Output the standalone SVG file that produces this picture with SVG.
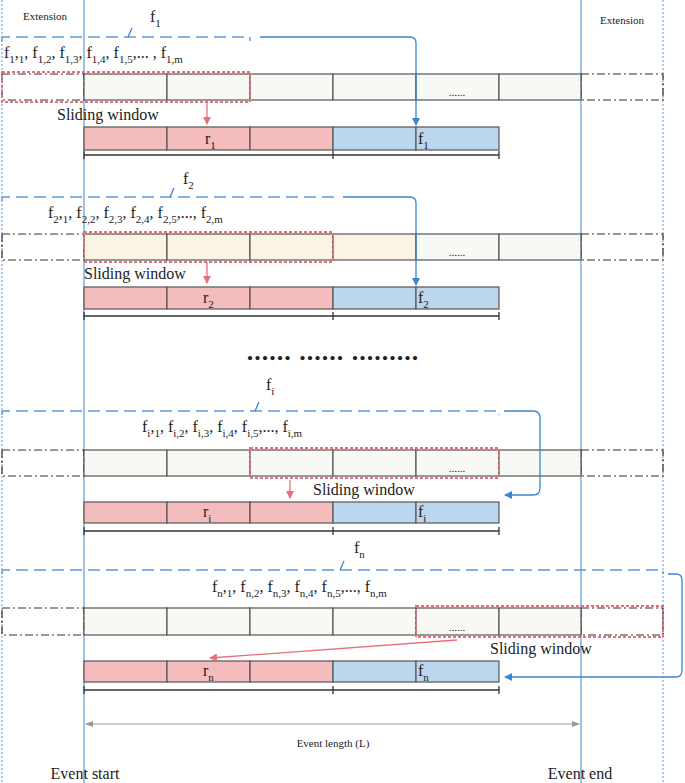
<svg xmlns="http://www.w3.org/2000/svg" width="685" height="783" viewBox="0 0 685 783">
<style>
text{font-family:"Liberation Serif",serif;fill:#222}
.t{font-size:16px}.s{font-size:11px}
.cell{fill:#f8f8f4;stroke:#555;stroke-width:1.2}
.beige{fill:#fbf3e4;stroke:#555;stroke-width:1.2}
.red{fill:#f4bcbc;stroke:#555;stroke-width:1.2}
.blue{fill:#bcd6ee;stroke:#555;stroke-width:1.2}
.ext{fill:none;stroke:#333;stroke-dasharray:8 3 2 3;stroke-width:1.2}
.win{fill:none;stroke:#e8707a;stroke-dasharray:3 2;stroke-width:2}
.bd{fill:none;stroke:#5b9bd5;stroke-dasharray:12 6;stroke-width:1.4}
.bl{fill:none;stroke:#3a86cf;stroke-width:1.3}
.rl{fill:none;stroke:#e8707a;stroke-width:1.3}
.br{fill:none;stroke:#333;stroke-width:1.3}
.v{stroke:#5b9bd5;stroke-width:1.2}
.vd{stroke:#5b9bd5;stroke-width:1;stroke-dasharray:2 2}
</style>
<defs>
<marker id="ab" markerWidth="8" markerHeight="8" refX="7" refY="4" orient="auto" markerUnits="userSpaceOnUse"><path d="M0,0L8,4L0,8z" fill="#3a86cf"/></marker>
<marker id="ar" markerWidth="8" markerHeight="8" refX="7" refY="4" orient="auto" markerUnits="userSpaceOnUse"><path d="M0,0L8,4L0,8z" fill="#e8707a"/></marker>
<marker id="ag" markerWidth="8" markerHeight="8" refX="7" refY="4" orient="auto" markerUnits="userSpaceOnUse"><path d="M0,1L8,4L0,7z" fill="#999"/></marker>
<marker id="ag0" markerWidth="8" markerHeight="8" refX="1" refY="4" orient="auto" markerUnits="userSpaceOnUse"><path d="M8,1L0,4L8,7z" fill="#999"/></marker>
</defs>
<g id="guides">
<line class="vd" x1="2" y1="0" x2="2" y2="783"/>
<line class="vd" x1="663" y1="0" x2="663" y2="783"/>
<line class="v" x1="84" y1="0" x2="84" y2="783"/>
<line class="v" x1="581" y1="0" x2="581" y2="783"/>
<text class="s" x="45" y="20" text-anchor="middle">Extension</text>
<text class="s" x="622" y="24" text-anchor="middle">Extension</text>
</g>
<g id="row1">
<rect class="ext" x="2" y="74" width="82" height="26"/><rect class="ext" x="581" y="74" width="82" height="26"/>
<rect class="cell" x="84" y="74" width="83" height="26"/><rect class="cell" x="167" y="74" width="83" height="26"/><rect class="cell" x="250" y="74" width="83" height="26"/><rect class="cell" x="333" y="74" width="83" height="26"/><rect class="cell" x="416" y="74" width="83" height="26"/><rect class="cell" x="499" y="74" width="82" height="26"/>
<text class="s" x="457" y="96" text-anchor="middle">......</text>
<rect class="win" x="2" y="72" width="248" height="30"/>
<text class="t" x="150" y="22">f<tspan font-size="11" dy="5">1</tspan></text>
<text class="t" x="4" y="58">f<tspan font-size="11" dy="5">1</tspan><tspan dy="-5">,</tspan><tspan font-size="11" dy="5">1</tspan><tspan dy="-5">, f</tspan><tspan font-size="11" dy="5">1,2</tspan><tspan dy="-5">, f</tspan><tspan font-size="11" dy="5">1,3</tspan><tspan dy="-5">, f</tspan><tspan font-size="11" dy="5">1,4</tspan><tspan dy="-5">, f</tspan><tspan font-size="11" dy="5">1,5</tspan><tspan dy="-5">,... , f</tspan><tspan font-size="11" dy="5">1,m</tspan></text>
<text class="t" x="57" y="120">Sliding window</text>
<rect class="red" x="84" y="127" width="83" height="23"/><rect class="red" x="167" y="127" width="83" height="23"/><rect class="red" x="250" y="127" width="83" height="23"/>
<rect class="blue" x="333" y="127" width="83" height="23"/><rect class="blue" x="416" y="127" width="83" height="23"/>
<text class="t" x="205" y="144">r<tspan font-size="11" dy="5">1</tspan></text>
<text class="t" x="418" y="144">f<tspan font-size="11" dy="5">1</tspan></text>
<path class="br" d="M84,155H499M84,151V159M333,151V159M499,151V159"/>
</g>
<g id="row2">
<rect class="ext" x="2" y="234" width="82" height="26"/><rect class="ext" x="581" y="234" width="82" height="26"/>
<rect class="beige" x="84" y="234" width="83" height="26"/><rect class="beige" x="167" y="234" width="83" height="26"/><rect class="beige" x="250" y="234" width="83" height="26"/><rect class="beige" x="333" y="234" width="83" height="26"/><rect class="cell" x="416" y="234" width="83" height="26"/><rect class="cell" x="499" y="234" width="82" height="26"/>
<text class="s" x="457" y="256" text-anchor="middle">......</text>
<rect class="win" x="84" y="232" width="249" height="30"/>
<text class="t" x="183" y="184">f<tspan font-size="11" dy="5">2</tspan></text>
<text class="t" x="48" y="218">f<tspan font-size="11" dy="5">2</tspan><tspan dy="-5">,</tspan><tspan font-size="11" dy="5">1</tspan><tspan dy="-5">, f</tspan><tspan font-size="11" dy="5">2,2</tspan><tspan dy="-5">, f</tspan><tspan font-size="11" dy="5">2,3</tspan><tspan dy="-5">, f</tspan><tspan font-size="11" dy="5">2,4</tspan><tspan dy="-5">, f</tspan><tspan font-size="11" dy="5">2,5</tspan><tspan dy="-5">,..., f</tspan><tspan font-size="11" dy="5">2,m</tspan></text>
<text class="t" x="84" y="279">Sliding window</text>
<rect class="red" x="84" y="287" width="83" height="22"/><rect class="red" x="167" y="287" width="83" height="22"/><rect class="red" x="250" y="287" width="83" height="22"/>
<rect class="blue" x="333" y="287" width="83" height="22"/><rect class="blue" x="416" y="287" width="83" height="22"/>
<text class="t" x="203" y="303">r<tspan font-size="11" dy="5">2</tspan></text>
<text class="t" x="418" y="303">f<tspan font-size="11" dy="5">2</tspan></text>
<path class="br" d="M84,316H499M84,312V320M333,312V320M499,312V320"/>
</g>
<text id="dots" x="333" y="360" text-anchor="middle" style="font-size:26px;font-weight:bold;letter-spacing:1px">...... ...... .........</text>
<g id="rowi">
<rect class="ext" x="2" y="450" width="82" height="26"/><rect class="ext" x="581" y="450" width="82" height="26"/>
<rect class="cell" x="84" y="450" width="83" height="26"/><rect class="cell" x="167" y="450" width="83" height="26"/><rect class="cell" x="250" y="450" width="83" height="26"/><rect class="cell" x="333" y="450" width="83" height="26"/><rect class="cell" x="416" y="450" width="83" height="26"/><rect class="cell" x="499" y="450" width="82" height="26"/>
<text class="s" x="457" y="472" text-anchor="middle">......</text>
<rect class="win" x="250" y="448" width="249" height="30"/>
<text class="t" x="266" y="390">f<tspan font-size="11" dy="5">i</tspan></text>
<text class="t" x="142" y="432">f<tspan font-size="11" dy="5">i</tspan><tspan dy="-5">,</tspan><tspan font-size="11" dy="5">1</tspan><tspan dy="-5">, f</tspan><tspan font-size="11" dy="5">i,2</tspan><tspan dy="-5">, f</tspan><tspan font-size="11" dy="5">i,3</tspan><tspan dy="-5">, f</tspan><tspan font-size="11" dy="5">i,4</tspan><tspan dy="-5">, f</tspan><tspan font-size="11" dy="5">i,5</tspan><tspan dy="-5">,..., f</tspan><tspan font-size="11" dy="5">i,m</tspan></text>
<text class="t" x="313" y="495">Sliding window</text>
<rect class="red" x="84" y="502" width="83" height="21"/><rect class="red" x="167" y="502" width="83" height="21"/><rect class="red" x="250" y="502" width="83" height="21"/>
<rect class="blue" x="333" y="502" width="83" height="21"/><rect class="blue" x="416" y="502" width="83" height="21"/>
<text class="t" x="203" y="517">r<tspan font-size="11" dy="5">i</tspan></text>
<text class="t" x="418" y="517">f<tspan font-size="11" dy="5">i</tspan></text>
<path class="br" d="M84,531H499M84,527V535M333,527V535M499,527V535"/>
</g>
<g id="rown">
<rect class="ext" x="2" y="608" width="82" height="27"/><rect class="ext" x="581" y="608" width="82" height="27"/>
<rect class="cell" x="84" y="608" width="83" height="27"/><rect class="cell" x="167" y="608" width="83" height="27"/><rect class="cell" x="250" y="608" width="83" height="27"/><rect class="cell" x="333" y="608" width="83" height="27"/><rect class="cell" x="416" y="608" width="83" height="27"/><rect class="cell" x="499" y="608" width="82" height="27"/>
<text class="s" x="457" y="631" text-anchor="middle">......</text>
<rect class="win" x="416" y="606" width="247" height="31"/>
<text class="t" x="354" y="553">f<tspan font-size="11" dy="5">n</tspan></text>
<text class="t" x="212" y="592">f<tspan font-size="11" dy="5">n</tspan><tspan dy="-5">,</tspan><tspan font-size="11" dy="5">1</tspan><tspan dy="-5">, f</tspan><tspan font-size="11" dy="5">n,2</tspan><tspan dy="-5">, f</tspan><tspan font-size="11" dy="5">n,3</tspan><tspan dy="-5">, f</tspan><tspan font-size="11" dy="5">n,4</tspan><tspan dy="-5">, f</tspan><tspan font-size="11" dy="5">n,5</tspan><tspan dy="-5">,..., f</tspan><tspan font-size="11" dy="5">n,m</tspan></text>
<text class="t" x="490" y="654">Sliding window</text>
<rect class="red" x="84" y="661" width="83" height="21"/><rect class="red" x="167" y="661" width="83" height="21"/><rect class="red" x="250" y="661" width="83" height="21"/>
<rect class="blue" x="333" y="661" width="83" height="21"/><rect class="blue" x="416" y="661" width="83" height="21"/>
<text class="t" x="203" y="676">r<tspan font-size="11" dy="5">n</tspan></text>
<text class="t" x="418" y="676">f<tspan font-size="11" dy="5">n</tspan></text>
<path class="br" d="M84,690H499M84,686V694M333,686V694M499,686V694"/>
</g>
<g id="bottom">
<line x1="86" y1="724" x2="579" y2="724" stroke="#999" stroke-width="1" marker-start="url(#ag0)" marker-end="url(#ag)"/>
<text x="333" y="747" text-anchor="middle" style="font-size:11px">Event length (L)</text>
<text x="85" y="779" text-anchor="middle" style="font-size:16px">Event start</text>
<text x="580" y="779" text-anchor="middle" style="font-size:16px">Event end</text>
</g>
<g id="connectors">
<path class="bd" d="M2,41V37H250V41"/><path class="bl" d="M128,37L132,28"/>
<path class="bl" d="M260,37H410Q416,37 416,43V125" marker-end="url(#ab)"/>
<path class="rl" d="M207,102V124" marker-end="url(#ar)"/>
<path class="bd" d="M2,201V197H333V201"/><path class="bl" d="M170,197L174,188"/>
<path class="bl" d="M343,197H410Q416,197 416,203V285" marker-end="url(#ab)"/>
<path class="rl" d="M207,262V283" marker-end="url(#ar)"/>
<path class="bd" d="M2,415V411H499V415"/><path class="bl" d="M255,411L259,402"/>
<path class="bl" d="M504,411H533Q540,411 540,418V488Q540,495 533,495H505" marker-end="url(#ab)"/>
<path class="rl" d="M290,480V498" marker-end="url(#ar)"/>
<path class="bd" d="M2,574V570H663V574"/><path class="bl" d="M340,570L344,561"/>
<path class="bl" d="M668,574H676Q682,574 682,580V670Q682,677 676,677H505" marker-end="url(#ab)"/>
<path class="rl" d="M457,640L210,658" marker-end="url(#ar)"/>
</g>
</svg>
